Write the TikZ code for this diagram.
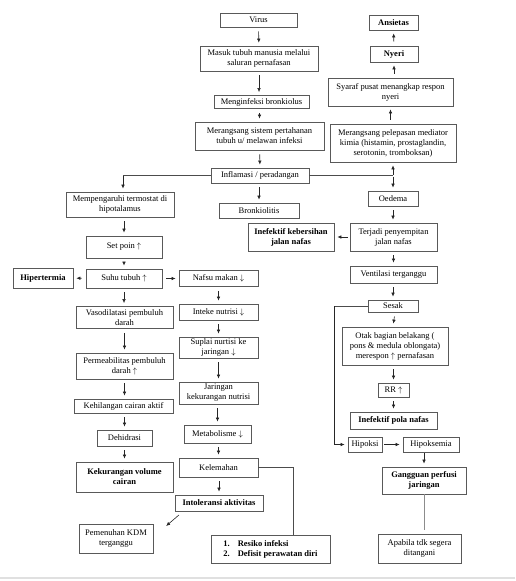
\documentclass[tikz,border=0pt]{standalone}
\usepackage{fontspec}
\setmainfont{Liberation Serif}
\usetikzlibrary{arrows.meta}
\begin{document}
\begin{tikzpicture}[x=1pt,y=-1pt,>={Latex[length=4pt,width=3.6pt]},
  box/.style={draw=black!65,line width=.8pt,align=center,inner sep=1pt,font=\fontsize{8.5}{10}\selectfont},
  bbox/.style={box,font=\fontsize{8.5}{10}\selectfont\bfseries},
  link/.style={->,draw=black!85,line width=.6pt,shorten <=4pt,shorten >=3pt},
  wire/.style={draw=black!70,line width=.6pt}]
\useasboundingbox (0,0) rectangle (515,581);
\draw[black!12,line width=1.5pt] (0,578) -- (515,578);

% middle column
\node[box,minimum width=77pt,minimum height=14pt] (virus) at (258.5,20) {Virus};
\node[box,minimum width=118pt,minimum height=25pt] (masuk) at (259,58.5) {Masuk tubuh manusia melalui\\saluran pernafasan};
\node[box,minimum width=95pt,minimum height=13pt] (infeksi) at (261.5,102) {Menginfeksi bronkiolus};
\node[box,minimum width=129pt,minimum height=28pt] (tahan) at (259.5,136) {Merangsang sistem pertahanan\\tubuh u/ melawan infeksi};
\node[box,minimum width=98pt,minimum height=15pt] (radang) at (260,175.5) {Inflamasi / peradangan};
\node[box,minimum width=80pt,minimum height=15pt] (bronk) at (259,210.5) {Bronkiolitis};

% left column
\node[box,minimum width=108pt,minimum height=25pt] (termo) at (120,204.5) {Mempengaruhi termostat di\\hipotalamus};
\node[box,minimum width=76pt,minimum height=22pt] (setpoin) at (124,247) {Set poin $\uparrow$};
\node[box,minimum width=76pt,minimum height=19pt] (suhu) at (124,278.5) {Suhu tubuh $\uparrow$};
\node[bbox,minimum width=60pt,minimum height=20pt] (hiper) at (43,278) {Hipertermia};
\node[box,minimum width=97pt,minimum height=22pt] (vaso) at (124.5,317.5) {Vasodilatasi pembuluh\\darah};
\node[box,minimum width=97pt,minimum height=26pt] (perme) at (124.5,366) {Permeabilitas pembuluh\\darah $\uparrow$};
\node[box,minimum width=99pt,minimum height=14pt] (cairan) at (123.5,406) {Kehilangan cairan aktif};
\node[box,minimum width=55pt,minimum height=16pt] (dehid) at (124.5,438) {Dehidrasi};
\node[bbox,minimum width=97pt,minimum height=30pt] (volume) at (124.5,477) {Kekurangan volume\\cairan};

% nutrisi column
\node[box,minimum width=79pt,minimum height=16pt] (nafsu) at (218.5,278.5) {Nafsu makan $\downarrow$};
\node[box,minimum width=79pt,minimum height=16pt] (inteke) at (218.5,312) {Inteke nutrisi $\downarrow$};
\node[box,minimum width=79pt,minimum height=21pt] (suplai) at (218.5,347.5) {Suplai nurtisi ke\\jaringan $\downarrow$};
\node[box,minimum width=79pt,minimum height=22pt] (jaringan) at (218.5,393) {Jaringan\\kekurangan nutrisi};
\node[box,minimum width=67pt,minimum height=18pt] (metab) at (217.5,434) {Metabolisme $\downarrow$};
\node[box,minimum width=79pt,minimum height=19pt] (lemah) at (218.5,467.5) {Kelemahan};
\node[bbox,minimum width=88pt,minimum height=16pt] (intol) at (219,503) {Intoleransi aktivitas};
\node[box,minimum width=74pt,minimum height=29pt] (kdm) at (116,538.5) {Pemenuhan KDM\\terganggu};
\node[bbox,minimum width=119pt,minimum height=28pt,align=left] (resiko) at (270.5,549)
  {\begin{tabular}{@{}l@{\hspace{8pt}}l@{}}1.&Resiko infeksi\\2.&Defisit perawatan diri\end{tabular}};

% right column
\node[bbox,minimum width=49pt,minimum height=15pt] (ansietas) at (393.5,22.5) {Ansietas};
\node[bbox,minimum width=48pt,minimum height=16pt] (nyeri) at (394,54) {Nyeri};
\node[box,minimum width=125pt,minimum height=28pt] (syaraf) at (390.5,92) {Syaraf pusat menangkap respon\\nyeri};
\node[box,minimum width=126pt,minimum height=38pt] (mediator) at (393,143) {Merangsang pelepasan mediator\\kimia (histamin, prostaglandin,\\serotonin, tromboksan)};
\node[box,minimum width=50pt,minimum height=15pt] (oedema) at (393,198.5) {Oedema};
\node[box,minimum width=87pt,minimum height=28pt] (sempit) at (393.5,237) {Terjadi penyempitan\\jalan nafas};
\node[bbox,minimum width=86pt,minimum height=28pt] (bersih) at (291,237) {Inefektif kebersihan\\jalan nafas};
\node[box,minimum width=87pt,minimum height=17pt] (venti) at (393.5,274.5) {Ventilasi terganggu};
\node[box,minimum width=50pt,minimum height=12pt] (sesak) at (393,306) {Sesak};
\node[box,minimum width=106pt,minimum height=38pt] (otak) at (395,346) {Otak bagian belakang (\\pons \& medula oblongata)\\merespon $\uparrow$ pernafasan};
\node[box,minimum width=31pt,minimum height=14pt] (rr) at (393.5,390) {RR $\uparrow$};
\node[bbox,minimum width=87pt,minimum height=17pt] (pola) at (393.5,420.5) {Inefektif pola nafas};
\node[box,minimum width=34pt,minimum height=15pt] (hipoksi) at (365,444.5) {Hipoksi};
\node[box,minimum width=56pt,minimum height=15pt] (hipoksemia) at (431,444.5) {Hipoksemia};
\node[bbox,minimum width=84pt,minimum height=27pt] (perfusi) at (424,480.5) {Gangguan perfusi\\jaringan};
\node[box,minimum width=83pt,minimum height=29pt] (apabila) at (419.5,548.5) {Apabila tdk segera\\ditangani};

\coordinate (radangL) at (123,175.5);
\coordinate (radangR) at (393,175.5);
\coordinate (sesakL) at (334,306);
\coordinate (lemahR) at (293,467.5);

\draw[link] (virus) -- (masuk);
\draw[link] (masuk) -- (infeksi.north -| masuk.south);
\draw[link] (infeksi.south -| tahan.north) -- (tahan);
\draw[link] (tahan) -- (radang);
\draw[link] (radang.south -| bronk.north) -- (bronk);
\draw[wire] (radang.west) -- (radangL);
\draw[link,shorten <=0pt] (radangL) -- (termo.north -| radangL);
\draw[wire] (radang.east) -- (radangR);
\draw[link,shorten <=1pt] (radangR) -- (mediator.south -| radangR);
\draw[link,shorten <=1pt] (radangR) -- (oedema.north -| radangR);
\draw[link] (mediator.north -| syaraf.south) -- (syaraf);
\draw[link] (syaraf.north -| nyeri.south) -- (nyeri);
\draw[link] (nyeri) -- (ansietas);

\draw[link] (termo.south -| setpoin.north) -- (setpoin);
\draw[link] (setpoin) -- (suhu);
\draw[link] (suhu) -- (hiper);
\draw[link] (suhu) -- (nafsu);
\draw[link] (suhu) -- (vaso.north -| suhu.south);
\draw[link] (vaso) -- (perme);
\draw[link] (perme) -- (cairan.north -| perme.south);
\draw[link] (cairan.south -| dehid.north) -- (dehid);
\draw[link] (dehid) -- (volume);

\draw[link] (nafsu) -- (inteke);
\draw[link] (inteke) -- (suplai);
\draw[link] (suplai) -- (jaringan);
\draw[link] (jaringan.south -| metab.north) -- (metab);
\draw[link] (metab.south -| lemah.north) -- (lemah);
\draw[link] (lemah.south -| intol.north) -- (intol);
\draw[link,shorten <=1pt,shorten >=1pt] ([xshift=5pt,yshift=-3pt]intol.south west) -- ([xshift=12pt,yshift=-3pt]kdm.north east);
\draw[wire] (lemah.east) -| (lemahR |- resiko.north);

\draw[link] (oedema) -- (sempit.north -| oedema.south);
\draw[link,shorten <=2pt] (sempit) -- (bersih);
\draw[link] (sempit) -- (venti);
\draw[link] (venti.south -| sesak.north) -- (sesak);
\draw[link] (sesak.south -| otak.north) -- (otak.north -| sesak.south);
\draw[link] (otak.south -| rr.north) -- (rr);
\draw[link] (rr) -- (pola);
\draw[wire] (sesak.west) -- (sesakL);
\draw[link,shorten <=0pt] (sesakL) |- (hipoksi.west);
\draw[link,shorten <=2pt] (hipoksi) -- (hipoksemia);
\draw[link,shorten <=1pt] (hipoksemia.south -| perfusi.north) -- (perfusi);
\draw[black!45,line width=.8pt,shorten >=4pt] (perfusi) -- (apabila.north -| perfusi.south);
\end{tikzpicture}
\end{document}
